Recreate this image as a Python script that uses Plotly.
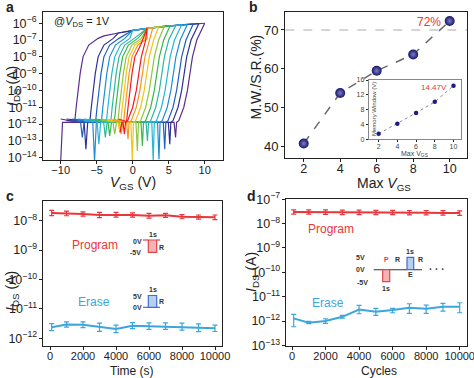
import numpy as np
import plotly.graph_objects as go

W, H = 474, 378
FONT = "Arial, 'Liberation Sans', sans-serif"
INK = "#222222"


def px(x):
    return x / W


def py(y):
    return 1 - y / H


# ---------------- Panel a : transfer curves (one loop per max V_GS) ----------------
LOOP_COLORS = ["#5b2d90", "#2e3192", "#1f5fbf", "#1b8fd6", "#26b5d9", "#2cb8a0",
               "#3cb44b", "#8dc63f", "#f2c318", "#f7941d", "#ed1c24"]
VMAX = [10, 9.2, 8.4, 7.6, 6.8, 6.0, 5.2, 4.4, 3.6, 2.8, 2.0]
V_ON = [-7.6, -5.5, -4.7, -3.9, -3.2, -2.6, -2.1, -1.6, -1.2, -0.8, -0.4]   # forward sweep, 1e-10 A crossing
V_OFF = [7.6, 6.8, 6.1, 5.3, 4.5, 3.7, 3.0, 2.3, 1.6, 1.0, 0.5]           # backward sweep, 1e-10 A crossing
DIP1_LOG = [-12.8, -13.2, -13.5, -14.1, -14.2, -13.0, -13.3, -13.6, -14.2, -12.9, -12.6]
DIP2_V = [-10.0, -6.5, -7.0, -5.3, -4.7, -3.8, -3.2, -2.5, -1.8, -1.6, -1.75]
DIP2_LOG = [-14.2, -13.5, -12.8, -14.2, -13.2, -12.8, -12.7, -12.6, -12.5, -12.6, -12.5]
# shape of the steep rise (offset from the 1e-10 A crossing, log10 current)
ON_DV = [-0.9, -0.45, -0.25, 0.0, 0.3, 0.7, 1.5, 2.8]
ON_LOG = [-11.8, -11.85, -11.0, -10.0, -9.0, -8.0, -7.3, -6.9]
OFF_DV = [2.4, 1.3, 0.7, 0.35, 0.0, -0.5, -1.2, -1.5]
OFF_LOG = [-6.3, -7.0, -8.0, -9.0, -10.0, -11.0, -11.8, -11.9]
# common on-state envelope
ENV_V = [-6, -4, -2, 0, 2, 4, 6, 8, 10]
ENV_LOG = [-6.95, -6.75, -6.58, -6.42, -6.3, -6.2, -6.12, -6.05, -6.0]

# ---------------- Panel b ----------------
MAX_VGS = [2, 4, 6, 8, 10]
MW_SR = [40.8, 53.8, 59.5, 63.7, 72.3]
MW_SR_REF = 70
MEM_WIN = [1.5, 4.2, 7.1, 10.1, 14.47]

# ---------------- Panel c : retention ----------------
TIME_S = [100, 1000, 2000, 3000, 4000, 5000, 6000, 7000, 8000, 9000, 10000]
PROG_C = [1.82e-8, 1.77e-8, 1.69e-8, 1.56e-8, 1.6e-8, 1.56e-8, 1.48e-8, 1.52e-8, 1.37e-8, 1.33e-8, 1.30e-8]
PROG_C_ERR = [0.09, 0.08, 0.07, 0.09, 0.08, 0.07, 0.08, 0.07, 0.07, 0.07, 0.08]   # decades
ERASE_C = [2.4e-12, 2.95e-12, 2.9e-12, 2.4e-12, 2.1e-12, 2.7e-12, 2.6e-12, 2.6e-12, 2.5e-12, 2.3e-12, 2.2e-12]
ERASE_C_ERR = [0.12, 0.09, 0.10, 0.14, 0.13, 0.10, 0.11, 0.11, 0.12, 0.13, 0.11]

# ---------------- Panel d : endurance ----------------
CYCLES = [100, 1000, 2000, 3000, 4000, 5000, 6000, 7000, 8000, 9000, 10000]
PROG_D = [3.0e-8, 3.0e-8, 2.95e-8, 2.9e-8, 2.9e-8, 2.85e-8, 2.85e-8, 2.8e-8, 2.8e-8, 2.75e-8, 2.7e-8]
PROG_D_ERR = [0.09, 0.09, 0.09, 0.09, 0.09, 0.09, 0.09, 0.09, 0.09, 0.09, 0.09]
ERASE_D = [1.29e-12, 8.55e-13, 1.0e-12, 1.5e-12, 3.0e-12, 2.42e-12, 2.83e-12, 3.53e-12, 3.2e-12, 3.88e-12, 3.88e-12]
ERASE_D_HI = [1.88e-12, 9.7e-13, 1.25e-12, 1.7e-12, 4.4e-12, 3.3e-12, 3.3e-12, 5.15e-12, 4.55e-12, 5.3e-12, 5.66e-12]
ERASE_D_LO = [5.85e-13, 7.8e-13, 8.0e-13, 1.33e-12, 2.0e-12, 1.71e-12, 2.2e-12, 2.07e-12, 2.07e-12, 2.58e-12, 2.2e-12]

RED = "#e8373c"
BLUE = "#3aa6dd"

fig = go.Figure()

# ---- panel a traces
for i, col in enumerate(LOOP_COLORS):
    vm = VMAX[i]
    env_end = float(np.interp(vm, ENV_V, ENV_LOG))
    # forward sweep
    fv, fl = [-vm], [-11.7]
    for dv, lg in zip(ON_DV, ON_LOG):
        v = V_ON[i] + dv
        if v < vm:
            fv.append(v); fl.append(lg)
    last = fv[-1]
    for ev, el in zip(ENV_V, ENV_LOG):
        if last < ev < vm:
            fv.append(ev); fl.append(el)
    fv.append(vm); fl.append(env_end)
    # backward sweep
    bv, bl = [vm], [env_end]
    for dv, lg in zip(OFF_DV, OFF_LOG):
        v = V_OFF[i] + dv
        if v < vm:
            bv.append(v); bl.append(lg)
    foot = V_OFF[i] + OFF_DV[-1]
    bv += [foot - 0.15, foot - 0.35, DIP2_V[i] + 0.25, DIP2_V[i]]
    bl += [DIP1_LOG[i], -11.9, -11.9, DIP2_LOG[i]]
    if DIP2_V[i] - 0.25 > -vm:
        bv += [DIP2_V[i] - 0.25, -vm]
        bl += [-11.85, -11.8]
    xs = fv + [None] + bv
    ys = [10 ** v for v in fl] + [None] + [10 ** v for v in bl]
    fig.add_trace(go.Scatter(x=xs, y=ys, mode="lines", line=dict(color=col, width=1.2),
                             xaxis="x", yaxis="y", showlegend=False, hoverinfo="skip",
                             connectgaps=False))

# ---- panel b traces
fig.add_trace(go.Scatter(x=MAX_VGS, y=MW_SR, mode="lines+markers", xaxis="x2", yaxis="y2",
                         line=dict(color="#6a6a6a", width=1.5, dash="dash"),
                         marker=dict(size=10, color="#16166a",
                                     gradient=dict(type="radial", color="#7c7cc4"),
                                     line=dict(width=0)),
                         showlegend=False))
fig.add_trace(go.Scatter(x=MAX_VGS, y=MEM_WIN, mode="lines+markers", xaxis="x3", yaxis="y3",
                         line=dict(color="#8a8a8a", width=1, dash="dot"),
                         marker=dict(size=4.5, color="#1e1e78"), showlegend=False))

# ---- panel c traces
def errs(vals, dec):
    up = [v * (10 ** d) - v for v, d in zip(vals, dec)]
    dn = [v - v / (10 ** d) for v, d in zip(vals, dec)]
    return up, dn

for vals, dec, col in [(PROG_C, PROG_C_ERR, RED), (ERASE_C, ERASE_C_ERR, BLUE)]:
    up, dn = errs(vals, dec)
    fig.add_trace(go.Scatter(x=TIME_S, y=vals, mode="lines", xaxis="x4", yaxis="y4",
                             line=dict(color=col, width=2),
                             error_y=dict(type="data", array=up, arrayminus=dn, color=col,
                                          thickness=1.2, width=2.5),
                             showlegend=False))

# ---- panel d traces
up, dn = errs(PROG_D, PROG_D_ERR)
fig.add_trace(go.Scatter(x=CYCLES, y=PROG_D, mode="lines", xaxis="x5", yaxis="y5",
                         line=dict(color=RED, width=2),
                         error_y=dict(type="data", array=up, arrayminus=dn, color=RED,
                                      thickness=1.2, width=2.5), showlegend=False))
fig.add_trace(go.Scatter(x=CYCLES, y=ERASE_D, mode="lines", xaxis="x5", yaxis="y5",
                         line=dict(color=BLUE, width=2),
                         error_y=dict(type="data",
                                      array=[h - v for h, v in zip(ERASE_D_HI, ERASE_D)],
                                      arrayminus=[v - l for v, l in zip(ERASE_D, ERASE_D_LO)],
                                      color=BLUE, thickness=1.2, width=2.5), showlegend=False))


def ax(**kw):
    base = dict(showline=True, linecolor=INK, linewidth=1.3, mirror=True, showgrid=False,
                zeroline=False, ticks="outside", ticklen=3, tickwidth=1, tickcolor=INK,
                automargin=False, ticklabeloverflow="allow",
                tickfont=dict(family=FONT, size=11, color=INK))
    base.update(kw)
    return base


logkw = dict(type="log", dtick=1, exponentformat="power", showexponent="all")

fig.update_layout(
    width=W, height=H, margin=dict(l=0, r=0, t=0, b=0, pad=0),
    paper_bgcolor="white", plot_bgcolor="white", showlegend=False,
    font=dict(family=FONT, color=INK),
    xaxis=ax(domain=[px(42.7), px(222.7)], anchor="y", range=[-12.5, 12.5],
             tickvals=[-10, -5, 0, 5, 10], ticklabelstandoff=-3),
    yaxis=ax(domain=[py(160), py(12)], anchor="x", range=[-14.14, -5.33],
             tickfont=dict(family=FONT, size=10, color=INK), **logkw),
    xaxis2=ax(domain=[px(285.3), px(467)], anchor="y2", range=[0.99, 10.95],
              tickvals=MAX_VGS, ticklabelstandoff=-4, tickfont=dict(family=FONT, size=12.5, color=INK)),
    yaxis2=ax(domain=[py(158.3), py(11.7)], anchor="x2", range=[37, 74.7],
              tickvals=[40, 50, 60, 70], tickfont=dict(family=FONT, size=13, color=INK)),
    xaxis3=ax(domain=[px(368.7), px(461)], anchor="y3", range=[0.94, 10.8],
              tickvals=MAX_VGS, linecolor="#888888", linewidth=1, ticklen=2, ticklabelstandoff=-2,
              tickfont=dict(family=FONT, size=7, color="#444")),
    yaxis3=ax(domain=[py(139.3), py(80)], anchor="x3", range=[0, 16],
              tickvals=[0, 4, 8, 12, 16], linecolor="#888888", linewidth=1, ticklen=2,
              tickfont=dict(family=FONT, size=7, color="#444")),
    xaxis4=ax(domain=[px(43.3), px(221.7)], anchor="y4", range=[-406, 10406],
              tickvals=[0, 2000, 4000, 6000, 8000, 10000], tickformat="d", ticklabelstandoff=-3),
    yaxis4=ax(domain=[py(345.7), py(200.7)], anchor="x4", range=[-12.25, -7.32],
              tickfont=dict(family=FONT, size=10, color=INK), **logkw),
    xaxis5=ax(domain=[px(286.3), px(467)], anchor="y5", range=[-340, 10435],
              tickvals=[0, 2000, 4000, 6000, 8000, 10000], tickformat="d", ticklabelstandoff=-3),
    yaxis5=ax(domain=[py(345.7), py(199)], anchor="x5", range=[-13.01, -6.99],
              tickfont=dict(family=FONT, size=10, color=INK), **logkw),
)

shapes = [
    dict(type="line", xref="x2 domain", yref="y2", x0=0, x1=1, y0=MW_SR_REF, y1=MW_SR_REF,
         line=dict(color="#c8c8c8", width=1.5, dash="dash"), layer="below"),
]

# pulse schematics (decorations, paper coordinates)
def pline(x0, y0, x1, y1, col, w=1.2):
    return dict(type="line", xref="paper", yref="paper", x0=px(x0), y0=py(y0), x1=px(x1), y1=py(y1),
                line=dict(color=col, width=w))


def prect(x0, y0, x1, y1, line, fill):
    return dict(type="rect", xref="paper", yref="paper", x0=px(x0), y0=py(y0), x1=px(x1), y1=py(y1),
                line=dict(color=line, width=1.2), fillcolor=fill)


PINK_LINE, PINK_FILL = "#e0454a", "#f4b4b4"
BLUE_LINE, BLUE_FILL = "#3f6fc8", "#b7cff0"
# panel c program
shapes += [pline(143, 240, 148.3, 240, PINK_LINE), prect(148.3, 240, 156.7, 252.3, PINK_LINE, PINK_FILL),
           pline(156.7, 240, 160, 240, PINK_LINE)]
# panel c erase
shapes += [pline(143, 307.3, 148.3, 307.3, BLUE_LINE), prect(148.3, 295.5, 156.7, 307.3, BLUE_LINE, BLUE_FILL),
           pline(156.7, 307.3, 160, 307.3, BLUE_LINE)]
# panel d sequence
shapes += [pline(373.7, 269.7, 382.7, 269.7, "#555"), prect(382.7, 269.7, 389.7, 281.7, PINK_LINE, PINK_FILL),
           pline(389.7, 269.7, 407, 269.7, "#555"), prect(407, 257.3, 413.7, 269.7, BLUE_LINE, BLUE_FILL),
           pline(413.7, 269.7, 422, 269.7, "#555")]
fig.update_layout(shapes=shapes)

ann = []


def txt(x, y, s, size=11, color=INK, angle=0, bold=False, xanchor="center"):
    ann.append(dict(x=px(x), y=py(y), xref="paper", yref="paper", text=("<b>%s</b>" % s) if bold else s,
                    showarrow=False, textangle=angle, xanchor=xanchor, yanchor="middle",
                    font=dict(family=FONT, size=size, color=color)))


# panel letters
txt(9.5, 7, "a", 14, bold=True)
txt(253, 7, "b", 14, bold=True)
txt(9.5, 196, "c", 14, bold=True)
txt(252, 196, "d", 14, bold=True)
# axis titles
txt(13, 86, "<i>I</i><sub>DS</sub> (A)", 14, angle=-90)
txt(133, 182.5, "<i>V</i><sub>GS</sub> (V)", 14)
txt(255.5, 77, "M.W./S.R.(%)", 14, angle=-90)
txt(384, 183.5, "Max <i>V</i><sub>GS</sub>", 14)
txt(12, 291, "<i>I</i><sub>DS</sub> (A)", 14, angle=-90)
txt(132, 371, "Time (s)", 12)
txt(252, 272, "<i>I</i><sub>DS</sub> (A)", 14, angle=-90)
txt(379, 371, "Cycles", 12)
# in-plot texts
txt(52, 22, "@<i>V</i><sub>DS</sub> = 1V", 11, xanchor="left")
txt(428.5, 22, "72%", 12, color="#e03a3a")
txt(433.5, 87.5, "14.47V", 8, color="#e03a3a")
txt(373.5, 109.5, "Memory Window (V)", 6, angle=-90, color="#444")
txt(415, 153.5, "Max V<sub>GS</sub>", 7, color="#444")
txt(95, 245.5, "Program", 12, color=RED)
txt(93.5, 301.5, "Erase", 12, color=BLUE)
txt(331, 229, "Program", 12, color=RED)
txt(327.5, 302.5, "Erase", 12, color=BLUE)
for (x, y, s) in [(137, 241.3, "0V"), (135.5, 252.3, "-5V"), (152.5, 234, "1s"), (161.5, 247, "R"),
                  (137, 296.7, "5V"), (137, 307.3, "0V"), (152.5, 289, "1s"), (161.5, 301.5, "R"),
                  (360.3, 257.3, "5V"), (360.3, 269.7, "0V"), (362, 282.3, "-5V"),
                  (386, 288.5, "1s"), (397, 259.7, "R"), (410, 251.3, "1s"), (410, 274.3, "E"),
                  (420, 259.7, "R")]:
    txt(x, y, s, 7, color="#333", bold=True)
txt(386, 259.7, "P", 7, color=RED, bold=True)
txt(437, 269, "· · ·", 10, color="#333", bold=True)
fig.update_layout(annotations=ann)

fig.write_html("out.html", config={"displayModeBar": False},
               post_script="document.body.style.margin='0';document.body.style.padding='0';")
